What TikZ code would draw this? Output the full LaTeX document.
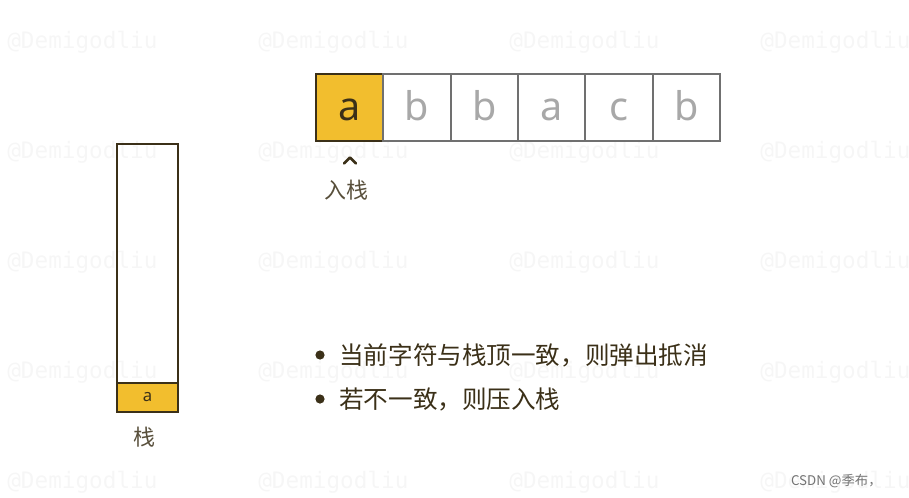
\documentclass[tikz,border=0pt]{standalone}
\usepackage{fontspec}
\setmainfont{Noto Sans CJK SC}
\newfontfamily\latinfont{Noto Sans}
\newfontfamily\wmfont{DejaVu Sans Mono}
\usetikzlibrary{positioning}
\definecolor{gold}{HTML}{F2BE2E}
\definecolor{ink}{HTML}{3B3018}
\definecolor{cellline}{HTML}{707070}
\definecolor{celltext}{HTML}{A8A8A8}
\definecolor{wmgray}{HTML}{F6F6F6}

\begin{document}
\begin{tikzpicture}
    [x=0.02cm,y=-0.02cm,
     cell/.style={draw=cellline, fill=white, line width=1.1pt, outer sep=0pt, inner sep=0pt,
       minimum width=1.347cm, minimum height=1.34cm, text height=15.3pt, text depth=0pt,
       text=celltext, font=\latinfont\fontsize{22.5}{22.5}\selectfont},
     topcell/.style={cell, draw=ink, fill=gold, text=ink},
     stackbox/.style={draw=ink, line width=1.1pt, outer sep=0pt, inner sep=0pt, minimum width=1.22cm},
     label/.style={text=ink!85, font=\fontsize{12.5}{12.5}\selectfont},
     rule/.style={anchor=west, text=ink, font=\fontsize{14}{14}\selectfont},
     wm/.style={anchor=west, inner sep=0pt, text=wmgray, font=\wmfont\fontsize{12.9}{12.9}\selectfont}]
  \useasboundingbox (0,0) rectangle (909,497);

  % watermark
  \foreach \x in {7,258,509,760}
    \foreach \y in {42,152,262,372,482}
      \node[wm] at (\x,\y) {@Demigodliu};

  % string
  \node[topcell] (c1) at (349.67,107.5) {a};
  \foreach \ch [count=\i from 2] in {b,b,a,c,b}
    \node[cell] (c\i) at ({316+67.33*(\i-0.5)},107.5) {\ch};

  \node[label] (push) at (346,190) {入栈};
  \draw[ink, line width=1.6pt, line cap=round, line join=round]
    (344,163.5) -- (350,157.5) -- (356,163.5);

  % stack
  \node[stackbox, minimum height=5.36cm] (stack) at (147.5,278) {};
  \node[stackbox, fill=gold, minimum height=0.58cm, text=ink, font=\latinfont\fontsize{9.5}{9.5}\selectfont]
    (s1) at (147.5,397.5) {a};
  \node[label] (name) at (144,437) {栈};

  % rules
  \fill[ink] (320,355) circle (4.6);
  \node[rule] (r1) at (333,355) {当前字符与栈顶一致，则弹出抵消};
  \fill[ink] (320,399) circle (4.6);
  \node[rule] (r2) at (333,399) {若不一致，则压入栈};

  \node[anchor=east, inner sep=0pt, text=black!55, font=\fontsize{7.6}{7.6}\selectfont] (csdn) at (882,481) {CSDN @季布，};
\end{tikzpicture}
\end{document}
